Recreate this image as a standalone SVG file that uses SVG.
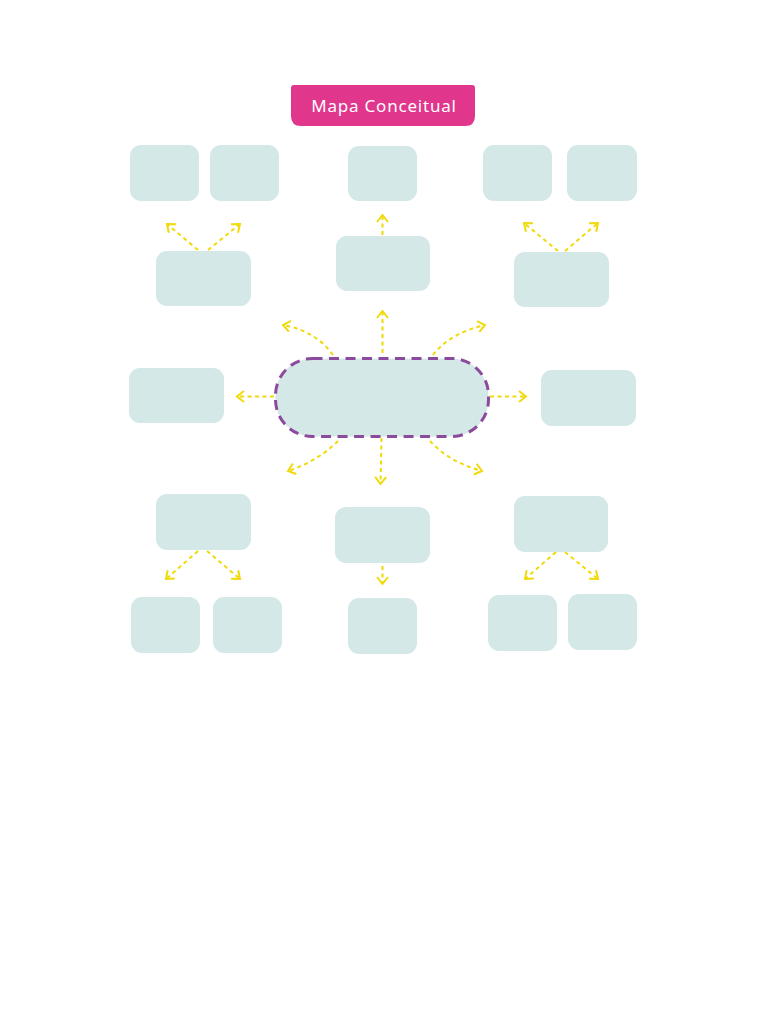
<svg xmlns="http://www.w3.org/2000/svg" width="768" height="1024" viewBox="0 0 768 1024">
<defs>
<style>
.box{fill:#D4E8E8;}
.c{fill:none;stroke:#F0DA0A;stroke-width:2;stroke-dasharray:4 3.5;marker-end:url(#ah);}
.title{font-family:"Noto Sans","Open Sans",sans-serif;font-size:17px;fill:#FFFFFF;letter-spacing:0.8px;}
</style>
<marker id="ah" markerUnits="userSpaceOnUse" markerWidth="14" markerHeight="14" refX="10" refY="7" orient="auto" viewBox="0 0 14 14">
<path d="M3,1.5 L10,7 L3,12.5" fill="none" stroke="#F0DA0A" stroke-width="2" stroke-linejoin="miter"/>
</marker>
</defs>
<rect width="768" height="1024" fill="#FFFFFF"/>
<g id="title">
<path d="M294,85 H472 Q475,85 475,88 V116 Q475,126 465,126 H301 Q291,126 291,116 V88 Q291,85 294,85 Z" fill="#E0368C"/>
<text class="title" x="384" y="111.5" text-anchor="middle">Mapa Conceitual</text>
</g>
<g id="connectors">
<path class="c" d="M198,250 L167,224"/>
<path class="c" d="M208,250 L240,224"/>
<path class="c" d="M382.5,235 L382.5,215"/>
<path class="c" d="M558,251 L524,223"/>
<path class="c" d="M565,251 L598,223"/>
<path class="c" d="M382.5,353 L382.5,311"/>
<path class="c" d="M333,355 Q316,331 283,325"/>
<path class="c" d="M433,355 Q450,333 485,325"/>
<path class="c" d="M274,396.5 L237,396.5"/>
<path class="c" d="M490,396.5 L526,396.5"/>
<path class="c" d="M381.5,438 L380.5,484"/>
<path class="c" d="M338,441 Q318,461 288,471"/>
<path class="c" d="M430,441 Q449,462 482,471"/>
<path class="c" d="M198,551 L166,579"/>
<path class="c" d="M207,551 L240,579"/>
<path class="c" d="M382.5,566 L382.5,584"/>
<path class="c" d="M556,552 L525,579"/>
<path class="c" d="M565,552 L598,579"/>
</g>
<g id="n1"><rect class="box" x="130" y="145" width="69" height="56" rx="11"/></g>
<g id="n2"><rect class="box" x="210" y="145" width="69" height="56" rx="11"/></g>
<g id="n3"><rect class="box" x="348" y="146" width="69" height="55" rx="11"/></g>
<g id="n4"><rect class="box" x="483" y="145" width="69" height="56" rx="11"/></g>
<g id="n5"><rect class="box" x="567" y="145" width="70" height="56" rx="11"/></g>
<g id="n6"><rect class="box" x="156" y="251" width="95" height="55" rx="11"/></g>
<g id="n7"><rect class="box" x="336" y="236" width="94" height="55" rx="11"/></g>
<g id="n8"><rect class="box" x="514" y="252" width="95" height="55" rx="11"/></g>
<g id="n9"><rect class="box" x="129" y="368" width="95" height="55" rx="11"/></g>
<g id="center"><rect x="275.5" y="358.5" width="213" height="78" rx="37" fill="#D4E8E8" stroke="#8B4A9C" stroke-width="3" stroke-dasharray="10 6.5"/></g>
<g id="n10"><rect class="box" x="541" y="370" width="95" height="56" rx="11"/></g>
<g id="n11"><rect class="box" x="156" y="494" width="95" height="56" rx="11"/></g>
<g id="n12"><rect class="box" x="335" y="507" width="95" height="56" rx="11"/></g>
<g id="n13"><rect class="box" x="514" y="496" width="94" height="56" rx="11"/></g>
<g id="n14"><rect class="box" x="131" y="597" width="69" height="56" rx="11"/></g>
<g id="n15"><rect class="box" x="213" y="597" width="69" height="56" rx="11"/></g>
<g id="n16"><rect class="box" x="348" y="598" width="69" height="56" rx="11"/></g>
<g id="n17"><rect class="box" x="488" y="595" width="69" height="56" rx="11"/></g>
<g id="n18"><rect class="box" x="568" y="594" width="69" height="56" rx="11"/></g>
</svg>
